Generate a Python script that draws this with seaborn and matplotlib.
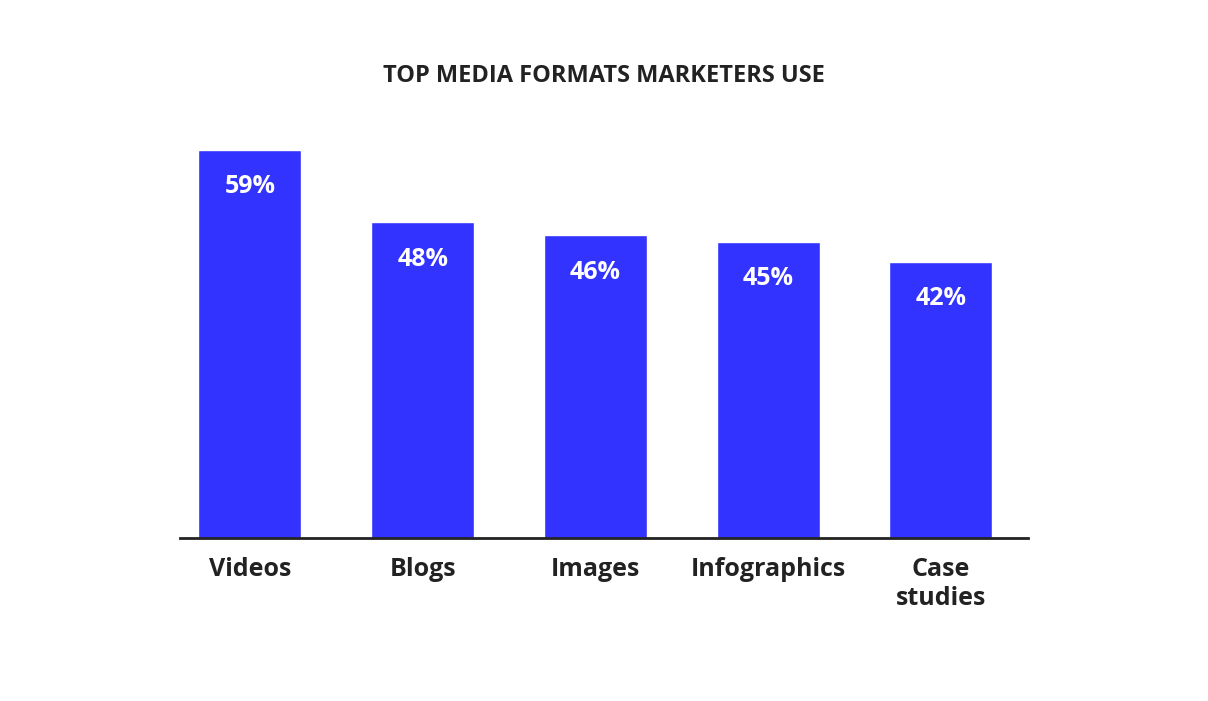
import matplotlib
matplotlib.use('Agg')
import matplotlib.pyplot as plt
import seaborn as sns
import pandas as pd

categories = ['Videos', 'Blogs', 'Images', 'Infographics', 'Case\nstudies']
values = [59, 48, 46, 45, 42]
value_labels = ['59%', '48%', '46%', '45%', '42%']

sns.set_style('white')
plt.rcParams['font.family'] = ['Open Sans', 'DejaVu Sans']

df = pd.DataFrame({'format': categories, 'share': values})

W, H = 1208, 701
fig = plt.figure(figsize=(W / 100, H / 100), dpi=100)
ax = fig.add_axes([180 / W, (H - 538) / H, 848 / W, 388 / H])

sns.barplot(data=df, x='format', y='share', color='#3333ff', saturation=1,
            width=0.596, ax=ax)
ax.set_xlim(-0.405, 4.504)
ax.set_ylim(0, 59)

for i, (v, lab) in enumerate(zip(values, value_labels)):
    ax.text(i, v - 5.6, lab, ha='center', va='center', color='white',
            fontsize=18, fontweight='bold')

for s in ['top', 'right', 'left']:
    ax.spines[s].set_visible(False)
ax.spines['bottom'].set_color('#222222')
ax.spines['bottom'].set_linewidth(2)
ax.set_yticks([])
ax.set_xlabel('')
ax.set_ylabel('')
ax.tick_params(axis='x', length=0, pad=14, labelsize=18, labelcolor='#222222')
for t in ax.get_xticklabels():
    t.set_fontweight('bold')
    t.set_va('top')
    t.set_linespacing(1.2)

fig.text(604 / W, 1 - 76 / H, 'TOP MEDIA FORMATS MARKETERS USE', ha='center',
         va='center', fontsize=17, fontweight='bold', color='#222222')

fig.savefig('out.png', dpi=100, facecolor='white')
